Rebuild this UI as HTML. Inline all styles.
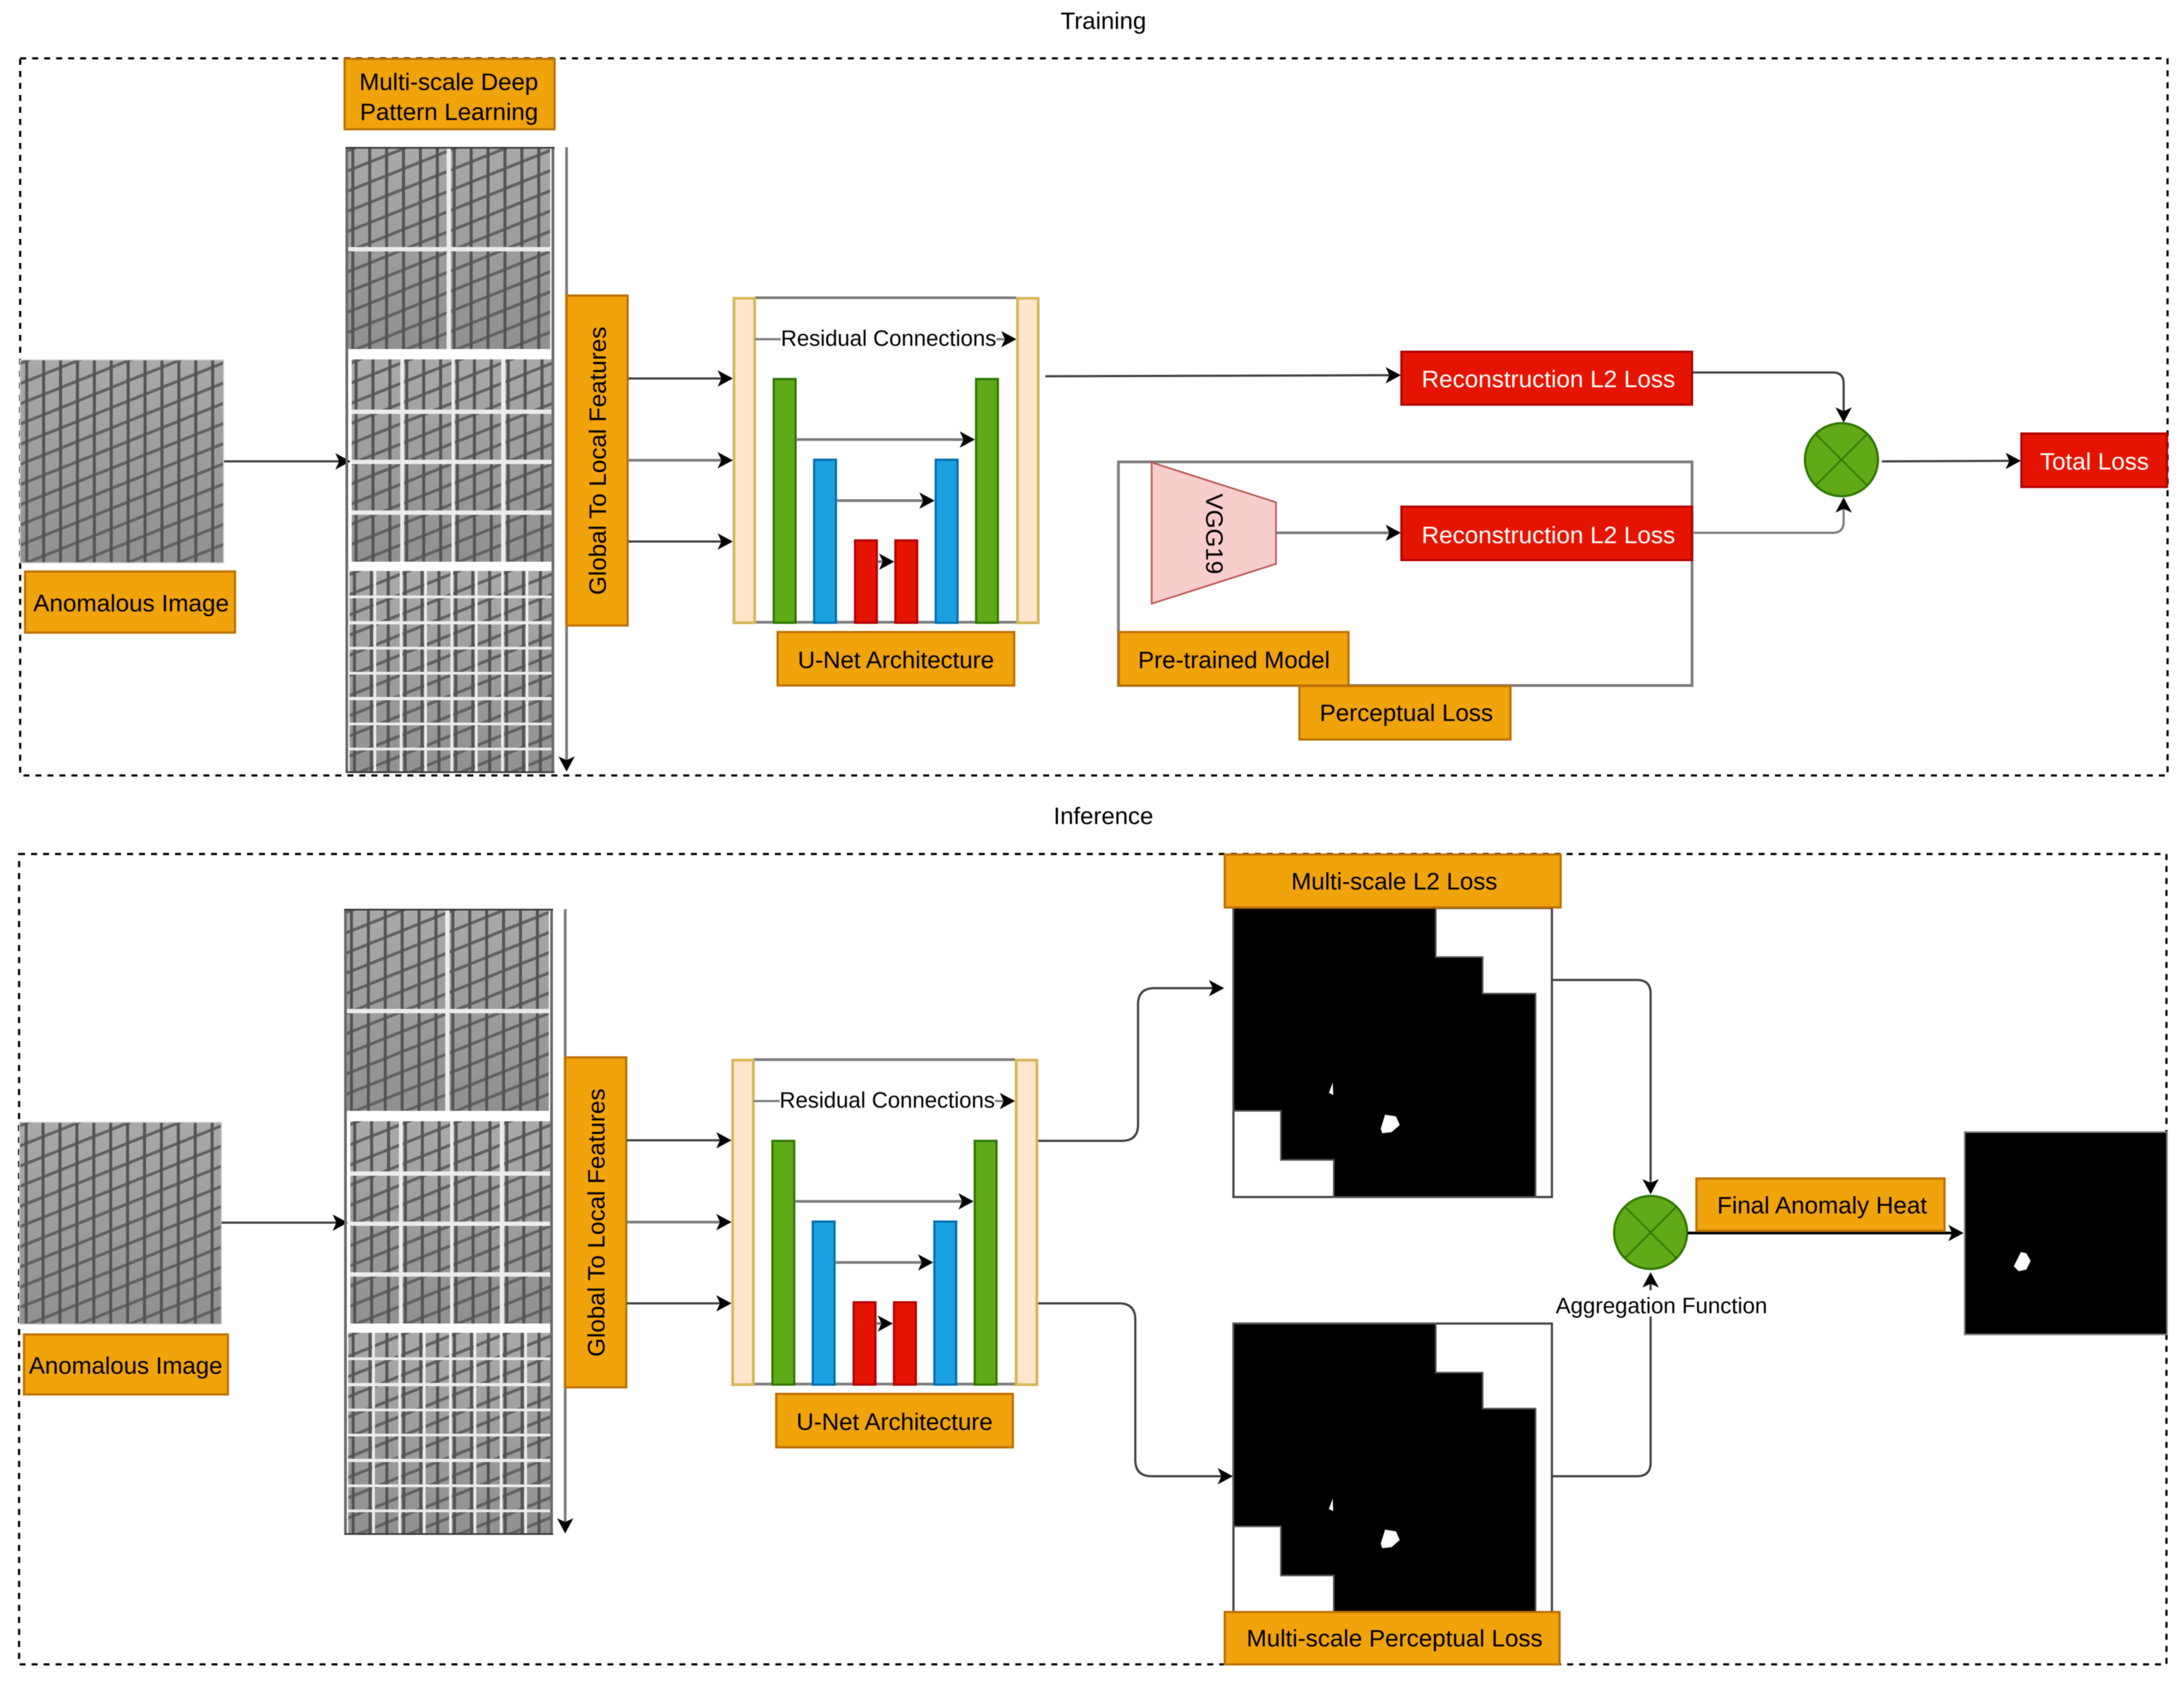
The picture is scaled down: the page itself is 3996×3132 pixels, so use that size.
<!DOCTYPE html>
<html>
<head>
<meta charset="utf-8">
<style>
html,body{margin:0;padding:0;background:#fff}
svg.root{display:block;filter:blur(.8px)}
text{font-family:"Liberation Sans",sans-serif;fill:#000;font-size:44px}
.w{fill:#fff}
.o{fill:#f0a30a;stroke:#bd7000;stroke-width:4}
.r{fill:#e51400;stroke:#b20000;stroke-width:4}
.g{fill:#60a917;stroke:#2d7600;stroke-width:4}
.b{fill:#1ba1e2;stroke:#006eaf;stroke-width:4}
.y{fill:#ffe6cc;stroke:#d6b656;stroke-width:5}
.l{fill:none;stroke:#404040;stroke-width:4}
.m{fill:none;stroke:#7c7c7c;stroke-width:5}
.d{fill:none;stroke:#000;stroke-width:4;stroke-dasharray:11 11}
.a{marker-end:url(#ah)}
</style>
</head>
<body>
<svg class="root" xmlns="http://www.w3.org/2000/svg" width="3996" height="3132" viewBox="0 0 3996 3132">
<defs>
<marker id="ah" markerUnits="userSpaceOnUse" markerWidth="44" markerHeight="44" refX="26" refY="22" orient="auto" overflow="visible">
<path d="M4 7 L32 22 L4 37 L11 22 Z" fill="#000"/>
</marker>
<linearGradient id="bg" gradientUnits="userSpaceOnUse" x1="0" y1="0" x2="0" y2="400">
<stop offset="0" stop-color="#a9a9a9"/><stop offset="1" stop-color="#8e8e8e"/>
</linearGradient>
<g id="tex">
<rect x="0" y="0" width="400" height="400" fill="url(#bg)"/>
<path d="M0 8l400-160M0 45l400-160M0 82l400-160M0 119l400-160M0 156l400-160M0 193l400-160M0 230l400-160M0 267l400-160M0 304l400-160M0 341l400-160M0 378l400-160M0 415l400-160M0 452l400-160M0 489l400-160M0 526l400-160M0 563l400-160" fill="none" stroke="#626262" stroke-width="5.5"/>
<path d="M13 0V400M44 0V400M75 0V400M106 0V400M137 0V400M168 0V400M199 0V400M230 0V400M261 0V400M292 0V400M323 0V400M354 0V400M385 0V400" fill="none" stroke="#545454" stroke-width="5.5"/>
</g>
<g id="col">
<svg x="634" y="270" width="375" height="370"><use href="#tex"/></svg>
<svg x="645" y="659" width="371" height="371"><g transform="translate(-5,0)"><use href="#tex"/></g></svg>
<svg x="641" y="1047" width="371" height="369"><g transform="translate(-4,0)"><use href="#tex"/></g></svg>
<g fill="#ececec">
<rect x="819" y="270" width="8" height="370"/>
<rect x="634" y="453" width="375" height="8"/>
<rect x="734" y="659" width="7" height="371"/>
<rect x="828" y="659" width="6" height="371"/>
<rect x="919" y="659" width="8" height="371"/>
<rect x="645" y="751" width="371" height="8"/>
<rect x="645" y="843" width="371" height="8"/>
<rect x="645" y="936" width="371" height="8"/>
<rect x="685" y="1047" width="5" height="369"/>
<rect x="733" y="1047" width="5" height="369"/>
<rect x="778" y="1047" width="5" height="369"/>
<rect x="826" y="1047" width="5" height="369"/>
<rect x="871" y="1047" width="5" height="369"/>
<rect x="919" y="1047" width="5" height="369"/>
<rect x="964" y="1047" width="5" height="369"/>
<rect x="641" y="1092" width="371" height="5"/>
<rect x="641" y="1139" width="371" height="6"/>
<rect x="641" y="1186" width="371" height="5"/>
<rect x="641" y="1232" width="371" height="5"/>
<rect x="641" y="1278" width="371" height="6"/>
<rect x="641" y="1325" width="371" height="5"/>
<rect x="641" y="1371" width="371" height="5"/>
</g>
<path d="M636 270V1416M1014 270V1416" fill="none" stroke="#6a6a6a" stroke-width="5"/>
<path d="M634 271H1017M634 1416H1017" fill="none" stroke="#333" stroke-width="3"/>
<path class="m a" d="M1039 270V1409"/>
<rect class="o" x="1039" y="542" width="112" height="605"/>
<path class="l a" d="M1152 694H1338"/>
<path class="m a" d="M1152 844H1338"/>
<path class="l a" d="M1152 993H1338"/>
<path class="m" d="M1384 546H1864M1384 1141H1864"/>
<rect class="y" x="1346" y="547" width="38" height="595"/>
<rect class="y" x="1866" y="547" width="38" height="595"/>
<path class="m a" style="stroke-width:4" d="M1384 622H1858"/>
<rect class="g" x="1419" y="695" width="40" height="447"/>
<rect class="b" x="1493" y="843" width="40" height="299"/>
<rect class="r" x="1568" y="991" width="40" height="151"/>
<rect class="r" x="1642" y="991" width="40" height="151"/>
<rect class="b" x="1716" y="843" width="40" height="299"/>
<rect class="g" x="1790" y="695" width="40" height="447"/>
<path class="m a" d="M1460 806H1782"/>
<path class="m a" d="M1534 918H1708"/>
<path class="m a" d="M1609 1030H1634"/>
<rect style="fill:#fff" x="1432" y="600" width="395" height="46"/>
<rect class="o" x="1426" y="1159" width="434" height="98"/>
</g>
</defs>

<text x="1945" y="53" textLength="157" lengthAdjust="spacingAndGlyphs">Training</text>
<text x="1932" y="1511" textLength="183" lengthAdjust="spacingAndGlyphs">Inference</text>

<rect class="d" x="37" y="107" width="3938" height="1315"/>
<rect class="d" x="35" y="1566" width="3938" height="1486"/>

<!-- TRAINING -->
<svg x="36" y="659" width="375" height="374"><use href="#tex"/></svg>
<rect x="37" y="660" width="373" height="372" fill="none" stroke="#cfcfcf" stroke-width="2"/>
<path class="l a" d="M411 846H637"/>
<rect class="o" x="46" y="1048" width="385" height="112"/>
<text x="61" y="1121" textLength="359" lengthAdjust="spacingAndGlyphs">Anomalous Image</text>

<rect class="o" x="632" y="108" width="385" height="129"/>
<text x="659" y="165" textLength="328" lengthAdjust="spacingAndGlyphs">Multi-scale Deep</text>
<text x="660" y="220" textLength="327" lengthAdjust="spacingAndGlyphs">Pattern Learning</text>

<use href="#col"/>
<text transform="translate(1111,1091) rotate(-90)" textLength="492" lengthAdjust="spacingAndGlyphs">Global To Local Features</text>
<text x="1432" y="634" style="font-size:41px" textLength="395" lengthAdjust="spacingAndGlyphs">Residual Connections</text>
<text x="1463" y="1225" textLength="360" lengthAdjust="spacingAndGlyphs">U-Net Architecture</text>

<path class="l a" d="M1917 690L2563 688"/>
<rect class="r" x="2570" y="645" width="533" height="97"/>
<text x="2607" y="710" textLength="465" lengthAdjust="spacingAndGlyphs" style="fill:#fff">Reconstruction L2 Loss</text>

<rect x="2051" y="847" width="1052" height="410" fill="none" stroke="#7c7c7c" stroke-width="5"/>
<path d="M2112 848L2340 921V1034L2112 1107Z" fill="#f8cecc" stroke="#b85450" stroke-width="3"/>
<text transform="translate(2212,905) rotate(90)" textLength="148" lengthAdjust="spacingAndGlyphs">VGG19</text>
<path class="m a" d="M2340 977H2563"/>
<rect class="r" x="2570" y="929" width="533" height="98"/>
<text x="2607" y="996" textLength="465" lengthAdjust="spacingAndGlyphs" style="fill:#fff">Reconstruction L2 Loss</text>

<path class="l a" d="M3104 683H3361Q3381 683 3381 703V769"/>
<path class="m a" style="stroke-width:4" d="M3104 977H3361Q3381 977 3381 957V918"/>
<ellipse class="g" cx="3377" cy="843" rx="67" ry="67"/>
<path d="M3330 796L3424 890M3424 796L3330 890" stroke="#2d7600" stroke-width="3" fill="none"/>
<path class="l a" d="M3451 846L3700 845"/>
<rect class="r" x="3707" y="795" width="267" height="98"/>
<text x="3741" y="861" textLength="200" lengthAdjust="spacingAndGlyphs" style="fill:#fff">Total Loss</text>

<rect class="o" x="2052" y="1159" width="421" height="98"/>
<text x="2087" y="1225" textLength="352" lengthAdjust="spacingAndGlyphs">Pre-trained Model</text>
<rect class="o" x="2383" y="1258" width="387" height="98"/>
<text x="2420" y="1322" textLength="318" lengthAdjust="spacingAndGlyphs">Perceptual Loss</text>

<!-- INFERENCE -->
<svg x="35" y="2057" width="372" height="372"><use href="#tex"/></svg>
<rect x="36" y="2058" width="370" height="370" fill="none" stroke="#cfcfcf" stroke-width="2"/>
<path class="l a" d="M406 2242H632"/>
<rect class="o" x="44" y="2447" width="374" height="110"/>
<text x="53" y="2519" textLength="355" lengthAdjust="spacingAndGlyphs">Anomalous Image</text>

<g transform="translate(-2.5,1397)"><use href="#col"/></g>
<text transform="translate(1108.5,2488) rotate(-90)" textLength="492" lengthAdjust="spacingAndGlyphs">Global To Local Features</text>
<text x="1429.5" y="2031" style="font-size:41px" textLength="395" lengthAdjust="spacingAndGlyphs">Residual Connections</text>
<text x="1460.5" y="2622" textLength="360" lengthAdjust="spacingAndGlyphs">U-Net Architecture</text>

<path class="l a" d="M1904 2092H2057Q2087 2092 2087 2062V1842Q2087 1812 2117 1812H2239"/>
<path class="l a" d="M1904 2390H2052Q2082 2390 2082 2420V2677Q2082 2707 2112 2707H2255"/>

<!-- map 1 -->
<rect x="2262" y="1665" width="584" height="530" fill="#fff" stroke="#444" stroke-width="4"/>
<path d="M2262 1665H2633V1755H2719V1822H2816V2195H2446V2127H2349V2037H2262Z" fill="#000" stroke="#555" stroke-width="3"/>
<path d="M2540 2044L2560 2047L2567 2063L2552 2076L2535 2078L2532 2070Z" fill="#fff"/>
<path d="M2444 1985L2445 2008L2437 2004Z" fill="#fff"/>
<rect class="o" x="2246" y="1567" width="616" height="97"/>
<text x="2368" y="1631" textLength="378" lengthAdjust="spacingAndGlyphs">Multi-scale L2 Loss</text>

<!-- map 2 -->
<rect x="2262" y="2427" width="584" height="530" fill="#fff" stroke="#444" stroke-width="4"/>
<path d="M2262 2427H2633V2517H2719V2583H2816V2957H2446V2889H2349V2799H2262Z" fill="#000" stroke="#555" stroke-width="3"/>
<path d="M2540 2805L2560 2808L2567 2824L2552 2837L2535 2839L2532 2831Z" fill="#fff"/>
<path d="M2444 2748L2445 2771L2437 2767Z" fill="#fff"/>
<rect class="o" x="2246" y="2956" width="614" height="96"/>
<text x="2286" y="3019" textLength="543" lengthAdjust="spacingAndGlyphs">Multi-scale Perceptual Loss</text>

<path class="l a" d="M2848 1797H3002Q3027 1797 3027 1822V2184"/>
<path class="l a" d="M2848 2707H3002Q3027 2707 3027 2682V2339"/>
<rect x="2853" y="2366" width="388" height="48" fill="#fff"/>
<text x="2853" y="2408" style="font-size:41px" textLength="388" lengthAdjust="spacingAndGlyphs">Aggregation Function</text>

<ellipse class="g" cx="3027" cy="2260" rx="67" ry="67"/>
<path d="M2980 2213L3074 2307M3074 2213L2980 2307" stroke="#2d7600" stroke-width="3" fill="none"/>

<path d="M3095 2261H3595" class="l a" style="stroke:#000;stroke-width:5"/>
<rect class="o" x="3111" y="2161" width="455" height="96"/>
<text x="3149" y="2225" textLength="385" lengthAdjust="spacingAndGlyphs">Final Anomaly Heat</text>

<rect x="3603" y="2076" width="371" height="371" fill="#000" stroke="#808080" stroke-width="3"/>
<path d="M3706 2296L3716 2298L3724 2312L3716 2328L3702 2331L3693 2322L3700 2308Z" fill="#fff"/>
</svg>
</body>
</html>
